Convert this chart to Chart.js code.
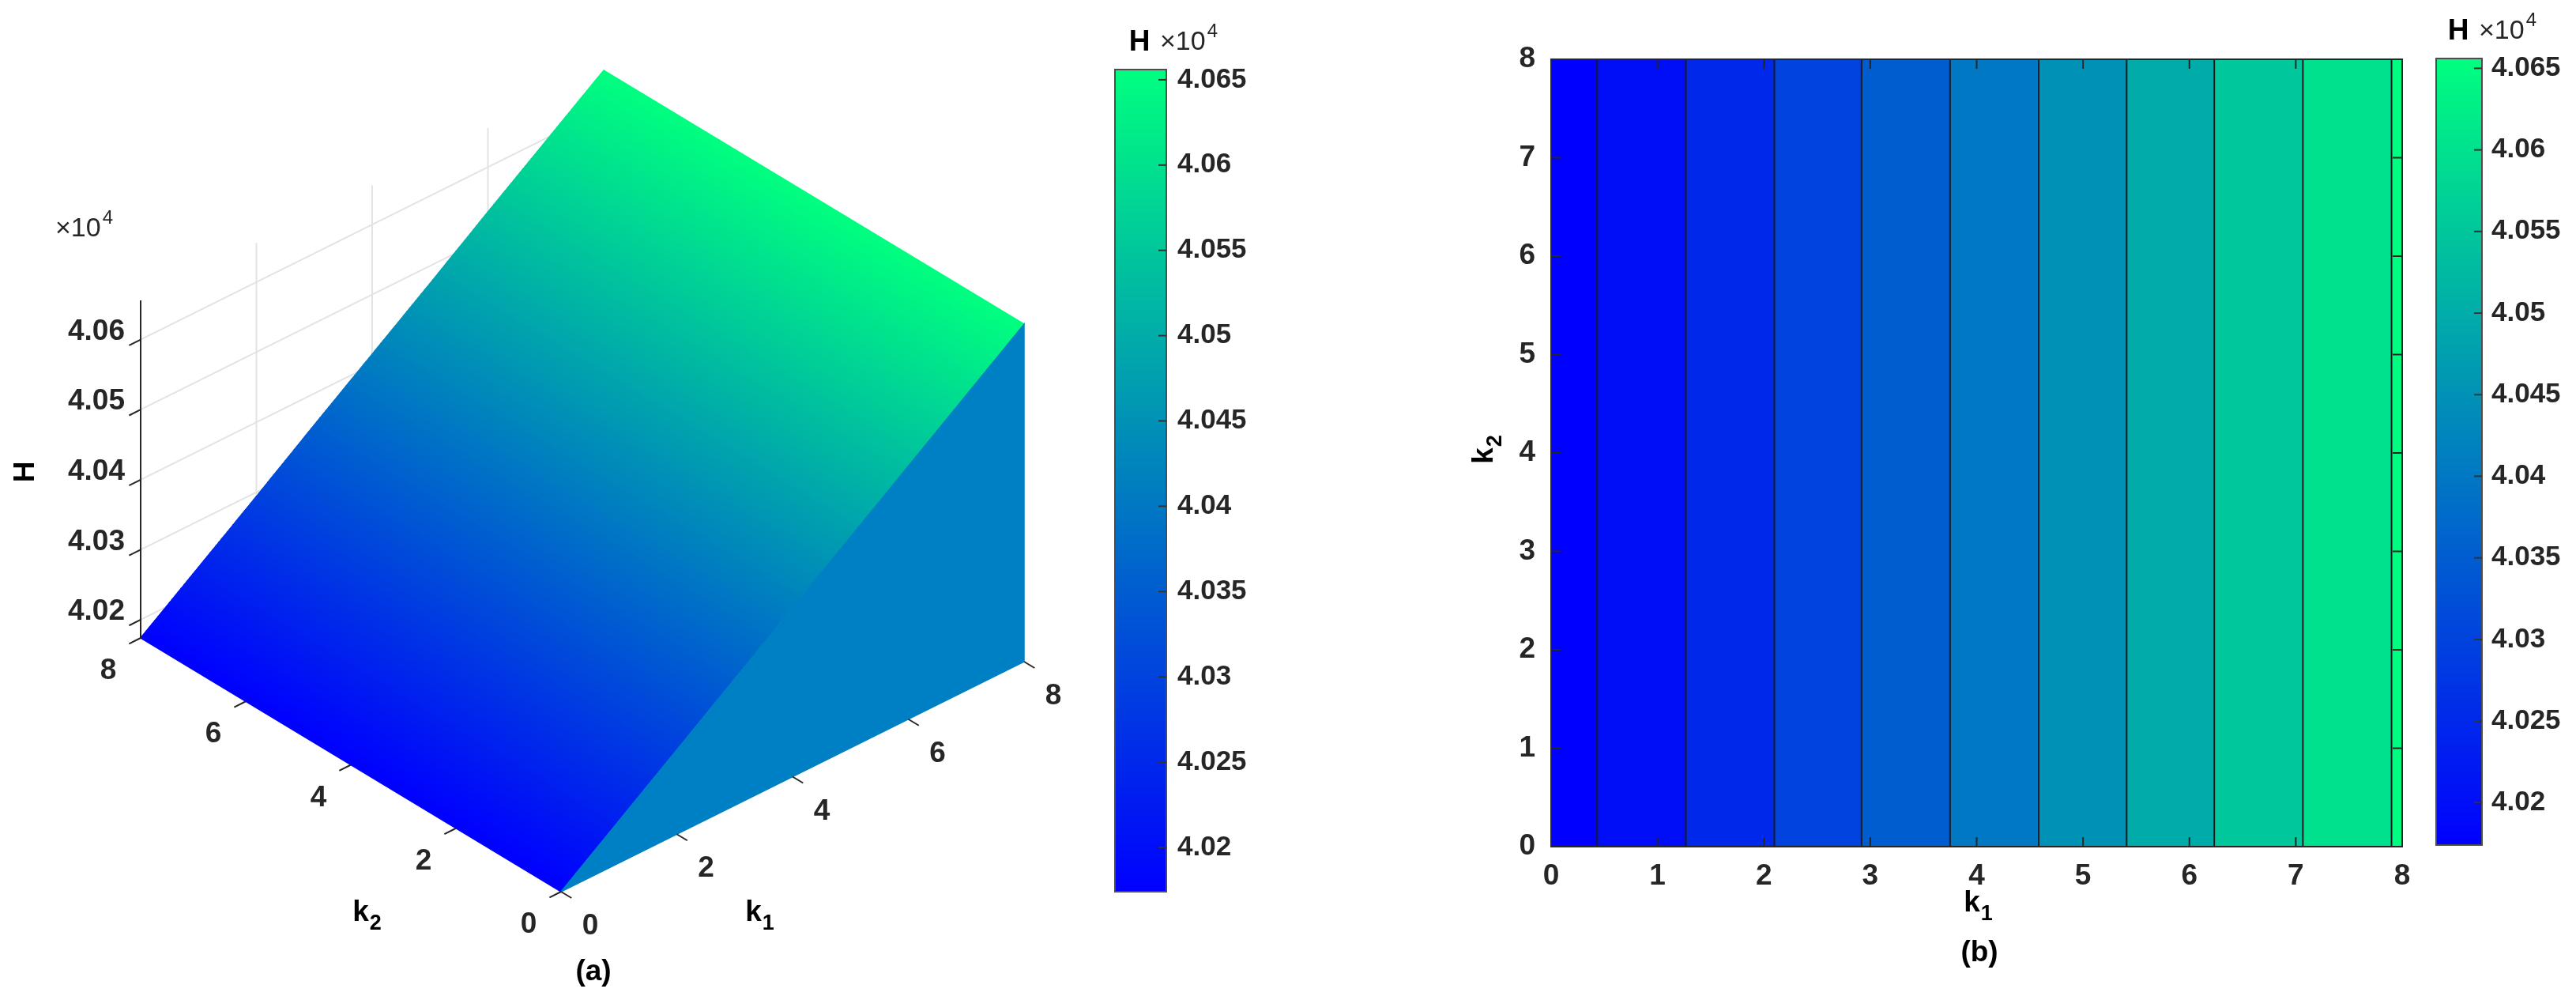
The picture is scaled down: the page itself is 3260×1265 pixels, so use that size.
<!DOCTYPE html>
<html><head><meta charset="utf-8">
<script src="https://cdn.jsdelivr.net/npm/chart.js@4"></script>
<style>html,body{margin:0;padding:0;background:#fff;}canvas{position:absolute;left:0;top:0;}</style>
</head><body>
<canvas id="c3d" width="3260" height="1265"></canvas>
<canvas id="c2d" width="3260" height="1265"></canvas>
<script>
// ---- data ----
const k1Values = [0, 1, 2, 3, 4, 5, 6, 7, 8];
const hValues = [4.0174, 4.0234, 4.0294, 4.0355, 4.0415, 4.0475, 4.0536, 4.0596, 4.0656];
const k2Range = [0, 8];
const contourLevels = [4.02, 4.025, 4.03, 4.035, 4.04, 4.045, 4.05, 4.055, 4.06, 4.065];
const colorbarTicks = ['4.02', '4.025', '4.03', '4.035', '4.04', '4.045', '4.05', '4.055', '4.06', '4.065'];
const zTicks = ['4.02', '4.03', '4.04', '4.05', '4.06'];
const k1Ticks3d = [0, 2, 4, 6, 8];
const k2Ticks3d = [0, 2, 4, 6, 8];
const axisTicks2d = [0, 1, 2, 3, 4, 5, 6, 7, 8];

const cmin = Math.min(...hValues), cmax = Math.max(...hValues);
function cmap(v){ // MATLAB winter
  let t = (v - cmin) / (cmax - cmin); t = Math.max(0, Math.min(1, t));
  return `rgb(0,${Math.round(255*t)},${Math.round(255*(1-t/2))})`;
}
const TXT = '#262626';
const FONT = 'bold 37px "Liberation Sans", Arial, sans-serif';
const SUBF = 'bold 27px "Liberation Sans", Arial, sans-serif';
function kLabel(ctx, x, y, sub, color){
  ctx.save(); ctx.fillStyle = color || '#000'; ctx.textBaseline='middle';
  ctx.font = FONT; const w1 = ctx.measureText('k').width;
  ctx.font = SUBF; const w2 = ctx.measureText(sub).width;
  const x0 = x - (w1+w2)/2;
  ctx.font = FONT; ctx.textAlign='left'; ctx.fillText('k', x0, y);
  ctx.font = SUBF; ctx.fillText(sub, x0+w1+1, y+14);
  ctx.restore();
}
function times10(ctx, x, y){ // x = left
  ctx.save(); ctx.fillStyle=TXT; ctx.textBaseline='middle'; ctx.textAlign='left';
  ctx.font = '34px "Liberation Sans", Arial, sans-serif';
  ctx.fillText('\u00d710', x, y);
  const w = ctx.measureText('\u00d710').width;
  ctx.font = '24px "Liberation Sans", Arial, sans-serif';
  ctx.fillText('4', x+w+2, y-14);
  ctx.restore();
}
function colorbar(ctx, x0, x1, y0, y1, labX, hX, hY){
  const g = ctx.createLinearGradient(0, y1, 0, y0);
  for (let i=0;i<=20;i++){ const v=cmin+(cmax-cmin)*i/20; g.addColorStop(i/20, cmap(v)); }
  ctx.fillStyle = g; ctx.fillRect(x0, y0, x1-x0, y1-y0);
  ctx.strokeStyle = '#4d4d4d'; ctx.lineWidth = 2; ctx.strokeRect(x0, y0, x1-x0, y1-y0);
  ctx.font = FONT.replace('37px','35px'); ctx.fillStyle = TXT; ctx.textAlign='left'; ctx.textBaseline='middle';
  colorbarTicks.forEach(s=>{
    const v = parseFloat(s); const y = y1 - (v-cmin)/(cmax-cmin)*(y1-y0);
    ctx.beginPath(); ctx.moveTo(x1, y); ctx.lineTo(x1-10, y); ctx.strokeStyle='#333'; ctx.stroke();
    ctx.fillText(s, labX, y);
  });
  ctx.font = FONT; ctx.fillStyle='#000'; ctx.textAlign='center'; ctx.fillText('H', hX, hY);
  times10(ctx, hX+26, hY);
}

// ---- 3D panel (a) ----
const O = [710, 1128], A = [73.25, -36.375], B = [-66.5, -40.125], CZ = -427/(cmax-cmin);
function proj(k1, k2, h){ return {x: O[0]+k1*A[0]+k2*B[0], y: O[1]+k1*A[1]+k2*B[1]+(h-cmin)*CZ}; }
function hAt(k1){
  for (let i=0;i<k1Values.length-1;i++){
    if (k1 <= k1Values[i+1]) { const t=(k1-k1Values[i])/(k1Values[i+1]-k1Values[i]); return hValues[i]+t*(hValues[i+1]-hValues[i]); }
  }
  return hValues[hValues.length-1];
}
const plugin3d = {
  id: 'surf3d',
  afterDatasetsDraw(chart){
    const ctx = chart.ctx, sx = chart.scales.x, sy = chart.scales.y;
    const P = (k1,k2,h)=>{ const p=proj(k1,k2,h); return [sx.getPixelForValue(p.x), sy.getPixelForValue(p.y)]; };
    const poly = (pts, fill, stroke)=>{ ctx.beginPath(); pts.forEach((p,i)=> i?ctx.lineTo(p[0],p[1]):ctx.moveTo(p[0],p[1])); ctx.closePath();
      ctx.fillStyle=fill; ctx.fill(); if (stroke){ctx.strokeStyle=stroke; ctx.lineWidth=1.5; ctx.stroke();} };
    const zmin = cmin, zmax = cmax, kMax = k2Range[1];
    ctx.save();
    // back wall grid (k2 = 8)
    ctx.strokeStyle = '#e3e3e3'; ctx.lineWidth = 2;
    k1Ticks3d.forEach(k=>{ const a=P(k,kMax,zmin), b=P(k,kMax,zmax); ctx.beginPath(); ctx.moveTo(...a); ctx.lineTo(...b); ctx.stroke(); });
    zTicks.forEach(s=>{ const z=parseFloat(s); const a=P(0,kMax,z), b=P(8,kMax,z); ctx.beginPath(); ctx.moveTo(...a); ctx.lineTo(...b); ctx.stroke(); });
    // surface strips
    const N = 160;
    for (let i=0;i<N;i++){
      const u0 = 8*i/N, u1 = 8*(i+1)/N, h0=hAt(u0), h1=hAt(u1);
      const col = cmap((h0+h1)/2);
      poly([P(u0,0,h0),P(u1,0,h1),P(u1,kMax,h1),P(u0,kMax,h0)], col, col);
    }
    // front wall k2 = 0
    poly([P(0,0,zmin), P(8,0,zmin), P(8,0,hAt(8))], 'rgb(0,128,196)', 'rgb(0,128,196)');
    // z axis
    ctx.strokeStyle = '#262626'; ctx.lineWidth = 2;
    let a=P(0,kMax,zmin), b=P(0,kMax,zmax); ctx.beginPath(); ctx.moveTo(...a); ctx.lineTo(...b); ctx.stroke();
    ctx.font = FONT; ctx.fillStyle = TXT; ctx.textAlign='right'; ctx.textBaseline='middle';
    zTicks.forEach(s=>{ const z=parseFloat(s); const p=P(0,kMax,z); ctx.beginPath(); ctx.moveTo(...p); ctx.lineTo(p[0]-14.6,p[1]+7.3); ctx.stroke();
      ctx.fillText(s, p[0]-20, p[1]-10); });
    // k2 axis ticks (k1=0 edge)
    ctx.textAlign='center';
    k2Ticks3d.forEach(k=>{ const p=P(0,k,zmin); ctx.beginPath(); ctx.moveTo(...p); ctx.lineTo(p[0]-14.6,p[1]+7.3); ctx.stroke();
      ctx.fillText(String(k), p[0]-41, p[1]+42); });
    k1Ticks3d.forEach(k=>{ const p=P(k,0,zmin); ctx.beginPath(); ctx.moveTo(...p); ctx.lineTo(p[0]+13.3,p[1]+8); ctx.stroke();
      ctx.fillText(String(k), p[0]+37, p[1]+44); });
    kLabel(ctx, 464, 1155, '2'); kLabel(ctx, 961, 1155, '1');
    ctx.fillStyle='#000'; ctx.font=FONT; ctx.textAlign='center'; ctx.fillText('(a)', 751, 1230);
    ctx.save(); ctx.translate(33, 597); ctx.rotate(-Math.PI/2); ctx.fillText('H', 0, 0); ctx.restore();
    times10(ctx, 70, 290);
    colorbar(ctx, 1411, 1476, 88, 1128, 1490, 1442, 54);
    ctx.restore();
  }
};
new Chart(document.getElementById('c3d'), {
  type: 'scatter',
  data: { datasets: [] },
  options: { responsive:false, animation:false, devicePixelRatio:1,
    layout:{padding:0},
    plugins:{legend:{display:false}, tooltip:{enabled:false}},
    scales:{ x:{type:'linear', min:0, max:3260, display:false}, y:{type:'linear', min:0, max:1265, reverse:true, display:false} } },
  plugins:[plugin3d]
});

// ---- contour panel (b) ----
function k1ForLevel(L){
  for (let i=0;i<hValues.length-1;i++){
    if (L>=hValues[i] && L<=hValues[i+1]) return k1Values[i] + (L-hValues[i])/(hValues[i+1]-hValues[i])*(k1Values[i+1]-k1Values[i]);
  }
  return null;
}
const bounds = contourLevels.map(k1ForLevel);
const contourDatasets = bounds.map(b=>({ data:[{x:b,y:k2Range[0]},{x:b,y:k2Range[1]}], showLine:true, borderColor:'#1a1a1a', borderWidth:2, pointRadius:0 }));
const plugin2d = {
  id:'contour2d',
  beforeDatasetsDraw(chart){
    const ctx=chart.ctx, sx=chart.scales.x, sy=chart.scales.y;
    const edges=[k1Values[0], ...bounds, k1Values[k1Values.length-1]];
    const lv=[cmin, ...contourLevels];
    ctx.save();
    for (let i=0;i<edges.length-1;i++){
      const x0=sx.getPixelForValue(edges[i]), x1=sx.getPixelForValue(edges[i+1]);
      const y0=sy.getPixelForValue(k2Range[1]), y1=sy.getPixelForValue(k2Range[0]);
      ctx.fillStyle=cmap(lv[i]); ctx.fillRect(x0,y0,x1-x0+0.5,y1-y0);
    }
    ctx.restore();
  },
  afterDraw(chart){
    const ctx=chart.ctx, sx=chart.scales.x, sy=chart.scales.y, ca=chart.chartArea;
    ctx.save();
    ctx.strokeStyle='#262626'; ctx.lineWidth=2;
    ctx.strokeRect(ca.left, ca.top, ca.right-ca.left, ca.bottom-ca.top);
    axisTicks2d.forEach(v=>{
      const x=sx.getPixelForValue(v), y=sy.getPixelForValue(v);
      ctx.beginPath();
      ctx.moveTo(x,ca.bottom); ctx.lineTo(x,ca.bottom-12); ctx.moveTo(x,ca.top); ctx.lineTo(x,ca.top+12);
      ctx.moveTo(ca.left,y); ctx.lineTo(ca.left+12,y); ctx.moveTo(ca.right,y); ctx.lineTo(ca.right-12,y);
      ctx.stroke();
    });
    kLabel(ctx, 2503, 1143, '1');
    ctx.save(); ctx.translate(1879, 569); ctx.rotate(-Math.PI/2); kLabel(ctx, 0, 0, '2'); ctx.restore();
    ctx.fillStyle='#000'; ctx.font=FONT; ctx.textAlign='center'; ctx.textBaseline='middle'; ctx.fillText('(b)', 2505, 1206);
    colorbar(ctx, 3083, 3141, 74, 1069, 3153, 3111, 40);
    ctx.restore();
  }
};
new Chart(document.getElementById('c2d'), {
  type:'scatter',
  data:{ datasets: contourDatasets },
  options:{ responsive:false, animation:false, devicePixelRatio:1,
    layout:{padding:{left:1903, right:220, top:75, bottom:134}},
    plugins:{legend:{display:false}, tooltip:{enabled:false}},
    scales:{
      x:{type:'linear', min:0, max:8, afterBuildTicks:s=>{s.ticks=axisTicks2d.map(v=>({value:v}));},
         grid:{display:false}, border:{display:false}, ticks:{color:TXT, font:{family:'"Liberation Sans", Arial', size:37, weight:'bold'}, padding:8, maxRotation:0},
         afterFit:s=>{s.height=60;}},
      y:{type:'linear', min:0, max:8, afterBuildTicks:s=>{s.ticks=axisTicks2d.map(v=>({value:v}));},
         grid:{display:false}, border:{display:false}, ticks:{color:TXT, font:{family:'"Liberation Sans", Arial', size:37, weight:'bold'}, padding:12},
         afterFit:s=>{s.width=60;}}
    } },
  plugins:[plugin2d]
});
</script>
</body></html>
